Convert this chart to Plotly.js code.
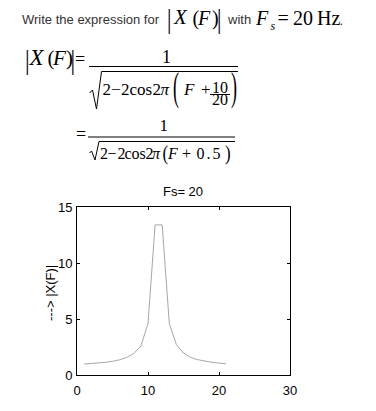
<!DOCTYPE html>
<html>
<head>
<meta charset="utf-8">
<script src="https://cdn.plot.ly/plotly-3.0.1.min.js"></script>
<style>
  html, body { margin: 0; padding: 0; background: #fff; }
  #wrap { position: relative; width: 376px; height: 411px; overflow: hidden; }
  #plot { position: absolute; left: 0; top: 0; width: 376px; height: 411px; }
  .t { position: absolute; white-space: pre; line-height: 1; z-index: 5; }
  .sans { font-family: "Liberation Sans", Arial, sans-serif; }
  .serif { font-family: "Liberation Serif", "Times New Roman", serif; }
  .it { font-style: italic; }
  #ov { position: absolute; left: 0; top: 0; width: 376px; height: 180px; z-index: 4; }
</style>
</head>
<body>
<div id="wrap">
  <div id="plot"></div>
  <svg id="ov" width="376" height="180"></svg>
</div>
<script>
// ---- data ----
const freqIndex = [1,2,3,4,5,6,7,8,9,10,11,12,13,14,15,16,17,18,19,20,21];
const magnitude = [0.98,1.01,1.06,1.13,1.22,1.36,1.57,1.92,2.6,4.6,13.4,13.4,4.6,2.7,1.96,1.57,1.37,1.22,1.13,1.07,1.0];
const xTicks = [0,10,20,30];
const yTicks = [0,5,10,15];
const chartTitle = 'Fs= 20';
const yLabel = '---> |X(F)|';

// ---- chart ----
const FONT = 'Liberation Sans, Arial, sans-serif';
const trace = {
  x: freqIndex, y: magnitude, type: 'scatter', mode: 'lines',
  line: {color: '#a6a6a6', width: 1}, hoverinfo: 'skip'
};
const axisBase = {
  showline: true, linecolor: '#000', linewidth: 1, mirror: 'ticks',
  ticks: 'inside', ticklen: 3, tickcolor: '#000', showgrid: false, zeroline: false,
  tickfont: {family: FONT, size: 13, color: '#000'}
};
const layout = {
  width: 376, height: 411,
  margin: {l: 77, r: 86, t: 207, b: 36},
  paper_bgcolor: '#fff', plot_bgcolor: '#fff',
  showlegend: false,
  title: {text: chartTitle, font: {family: FONT, size: 13, color: '#000'},
          x: 183/376, xanchor: 'center', xref: 'container', yref: 'container', y: 1 - 191/411, yanchor: 'middle'},
  xaxis: Object.assign({}, axisBase, {range: [0, 30], tickvals: xTicks, ticktext: xTicks.map(String), ticklabelstandoff: 3}),
  yaxis: Object.assign({}, axisBase, {range: [0, 15], tickvals: yTicks, ticktext: yTicks.map(String), ticklabelstandoff: 1}),
  annotations: [{
    text: yLabel, textangle: -90, showarrow: false,
    xref: 'paper', yref: 'paper', x: 0, y: 0.5, xshift: -27, yshift: -2,
    xanchor: 'center', yanchor: 'middle',
    font: {family: FONT, size: 13, color: '#000'}
  }]
};
Plotly.newPlot('plot', [trace], layout, {staticPlot: true, displayModeBar: false});

// ---- math text overlay ----
const wrap = document.getElementById('wrap');
function t(text, x, base, size, cls, extra) {
  const s = document.createElement('span');
  s.className = 't ' + cls;
  s.textContent = text;
  const asc = cls.indexOf('sans') >= 0 ? 0.8465 : 0.8375;
  s.style.left = x + 'px';
  s.style.top = (base - asc * size) + 'px';
  s.style.fontSize = size + 'px';
  s.style.color = (extra && extra.color) || '#000';
  if (extra && extra.ls) s.style.letterSpacing = extra.ls + 'px';
  if (extra && extra.scaleY) { s.style.transform = 'scaleY(' + extra.scaleY + ')'; s.style.transformOrigin = 'center ' + (extra.origin || '70%'); }
  wrap.appendChild(s);
  return s;
}
const ov = document.getElementById('ov');
function line(pts, w) {
  const p = document.createElementNS('http://www.w3.org/2000/svg', 'polyline');
  p.setAttribute('points', pts.map(q => q.join(',')).join(' '));
  p.setAttribute('fill', 'none'); p.setAttribute('stroke', '#000');
  p.setAttribute('stroke-width', w || 1);
  ov.appendChild(p);
}

// line 1
t('Write the expression for', 22, 24.3, 13, 'sans', {color: '#333'});
t('|', 167, 26.6, 22, 'serif', {scaleY: 1.25, origin: '50%'});
t('X', 174, 25, 21, 'serif it');
t('(', 192.5, 25, 20, 'serif');
t('F', 198, 25, 20, 'serif it');
t(')', 212, 25, 20, 'serif');
t('|', 217, 26.6, 22, 'serif', {scaleY: 1.25, origin: '50%'});
t('with', 228, 24.3, 13, 'sans', {color: '#333'});
t('F', 256, 25, 20, 'serif it');
t('s', 270.5, 30, 12, 'serif it');
t('=', 277.5, 25, 20, 'serif');
t('20', 293, 25, 20, 'serif');
t('Hz', 317, 25, 20, 'serif');
t('.', 339.5, 25, 13, 'sans', {color: '#333'});

// line 2
t('|', 25, 67, 23, 'serif', {scaleY: 1.2, origin: '50%'});
t('X', 29.5, 65.7, 23, 'serif it');
t('(', 47.5, 65.7, 21, 'serif');
t('F', 53, 65.7, 21, 'serif it');
t(')', 66, 65.7, 21, 'serif');
t('|', 70.5, 67, 23, 'serif', {scaleY: 1.2, origin: '50%'});
t('=', 75, 64.8, 18, 'serif');
t('1', 162, 62.7, 18, 'serif');
line([[89, 66.5], [238, 66.5]], 1);
line([[89.5, 93], [92.5, 90], [96.5, 109], [101.5, 71.5], [238, 71.5]], 1);
t('2', 102.5, 95, 17, 'serif');
t('\u2212', 111, 95, 17, 'serif');
t('2', 121, 95, 17, 'serif');
t('cos', 129.5, 95, 17, 'serif');
t('2', 152.5, 95, 17, 'serif');
t('\u03c0', 160.5, 95, 17, 'serif it');
t('(', 173, 95, 18, 'serif', {scaleY: 2.2, origin: '62%'});
t('F', 184, 95, 17, 'serif it');
t('+', 201, 95, 17, 'serif');
t('10', 212, 93, 16, 'serif');
line([[210, 94.5], [230, 94.5]], 1);
t('20', 212, 105.5, 16, 'serif');
t(')', 231, 95, 18, 'serif', {scaleY: 2.2, origin: '62%'});

// line 3
t('=', 76, 140, 18, 'serif');
t('1', 159.5, 131.7, 17, 'serif');
line([[88, 137], [235, 137]], 1);
line([[89.5, 153], [91.5, 151], [95, 160], [99, 141.5], [235, 141.5]], 1);
t('2', 100, 159, 16, 'serif');
t('\u2212', 107.5, 159, 16, 'serif');
t('2', 117.5, 159, 16, 'serif');
t('cos', 124.5, 159, 16, 'serif');
t('2', 145.5, 159, 16, 'serif');
t('\u03c0', 152, 159, 16, 'serif it');
t('(', 162.5, 159, 17, 'serif', {scaleY: 1.25, origin: '65%'});
t('F', 168, 159, 16, 'serif it');
t('+', 182, 159, 16, 'serif');
t('0.5', 196.5, 159, 16, 'serif', {ls: 2});
t(')', 225, 159, 17, 'serif', {scaleY: 1.25, origin: '65%'});
</script>
</body>
</html>
